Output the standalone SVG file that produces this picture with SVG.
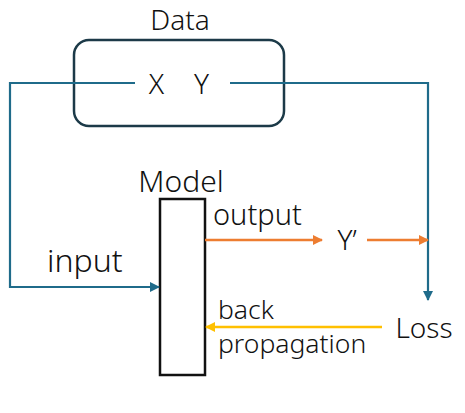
<svg xmlns="http://www.w3.org/2000/svg" width="465" height="413" viewBox="0 0 465 413">
<style>
text{font-family:"Noto Sans","Open Sans",sans-serif;font-weight:300;fill:#111;}
.b{fill:none;stroke:#1F6B8A;stroke-width:2.2;}
.o{fill:none;stroke:#ED7D31;stroke-width:2.5;}
.y{fill:none;stroke:#FFC000;stroke-width:2.5;}
</style>
<defs>
<marker id="ab" markerWidth="10" markerHeight="10" refX="9" refY="5" orient="auto" markerUnits="userSpaceOnUse"><path d="M0,0 L10,5 L0,10 Z" fill="#1F6B8A"/></marker>
<marker id="ao" markerWidth="10" markerHeight="10" refX="9" refY="5" orient="auto" markerUnits="userSpaceOnUse"><path d="M0,0 L10,5 L0,10 Z" fill="#ED7D31"/></marker>
<marker id="ay" markerWidth="10" markerHeight="10" refX="9" refY="5" orient="auto" markerUnits="userSpaceOnUse"><path d="M0,0 L10,5 L0,10 Z" fill="#FFC000"/></marker>
</defs>
<g id="data">
<rect x="74" y="40" width="210" height="86" rx="15" fill="none" stroke="#1C3A48" stroke-width="2.5"/>
<text x="180" y="30" font-size="28" text-anchor="middle">Data</text>
<text x="156.5" y="94" font-size="28" text-anchor="middle">X</text>
<text x="201.5" y="94" font-size="28" text-anchor="middle">Y</text>
</g>
<g id="model">
<rect x="160" y="199" width="45" height="176" fill="#fff" stroke="#111" stroke-width="2.5"/>
<text x="181" y="192" font-size="30" text-anchor="middle">Model</text>
</g>
<g id="yprime"><text x="347" y="250" font-size="28" text-anchor="middle">Y’</text></g>
<g id="loss"><text x="424" y="338" font-size="28" text-anchor="middle">Loss</text></g>
<g id="connectors">
<polyline class="b" points="135,83 10,83 10,287 159,287" marker-end="url(#ab)"/>
<polyline class="b" points="230,83 428,83 428,300" marker-end="url(#ab)"/>
<line class="o" x1="205" y1="240" x2="322" y2="240" marker-end="url(#ao)"/>
<line class="o" x1="367" y1="240" x2="428" y2="240" marker-end="url(#ao)"/>
<line class="y" x1="382" y1="327" x2="206" y2="327" marker-end="url(#ay)"/>
<text x="213" y="225" font-size="29">output</text>
<text x="47" y="272" font-size="32">input</text>
<text x="218" y="319" font-size="26.5">back</text>
<text x="218" y="353" font-size="26.5">propagation</text>
</g>
</svg>
